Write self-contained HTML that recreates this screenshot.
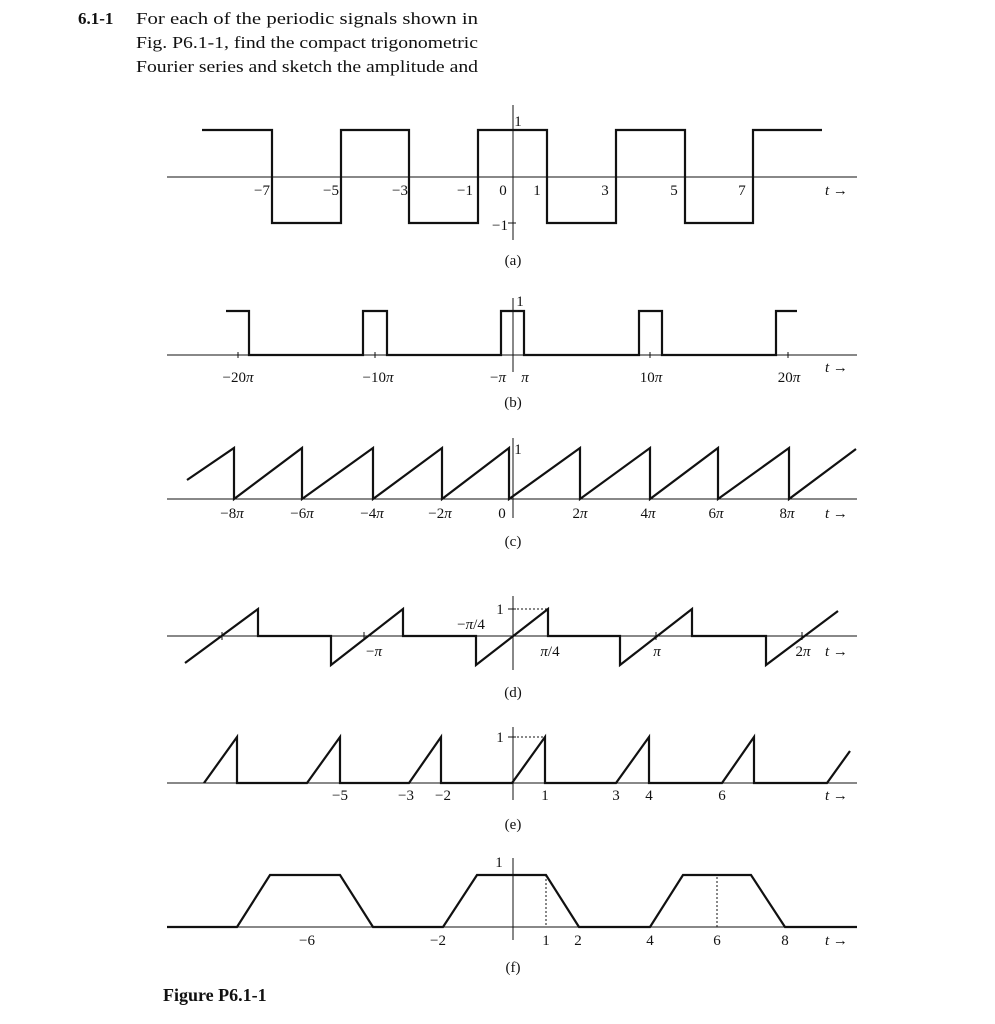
<!DOCTYPE html>
<html><head><meta charset="utf-8"><style>
html,body{margin:0;padding:0;background:#fff;width:995px;height:1024px;overflow:hidden}
svg{display:block}
text{font-family:"Liberation Serif",serif;fill:#111}
</style></head><body>
<svg width="995" height="1024" viewBox="0 0 995 1024" xmlns="http://www.w3.org/2000/svg">
<g font-size="17">
<text x="78" y="24" font-weight="bold">6.1-1</text>
<text x="136" y="24" textLength="342" lengthAdjust="spacingAndGlyphs">For each of the periodic signals shown in</text>
<text x="136" y="48" textLength="342" lengthAdjust="spacingAndGlyphs">Fig. P6.1-1, find the compact trigonometric</text>
<text x="136" y="72" textLength="342" lengthAdjust="spacingAndGlyphs">Fourier series and sketch the amplitude and</text>
</g>
<g stroke="#111" fill="none" stroke-width="1">
<line x1="167" y1="177" x2="857" y2="177"/><line x1="513" y1="105" x2="513" y2="240"/>
<line x1="167" y1="355" x2="857" y2="355"/><line x1="513" y1="298" x2="513" y2="372"/>
<line x1="167" y1="499" x2="857" y2="499"/><line x1="513" y1="438" x2="513" y2="518"/>
<line x1="167" y1="636" x2="857" y2="636"/><line x1="513" y1="596" x2="513" y2="670"/>
<line x1="167" y1="783" x2="857" y2="783"/><line x1="513" y1="727" x2="513" y2="800"/>
<line x1="167" y1="927" x2="857" y2="927"/><line x1="513" y1="858" x2="513" y2="940"/>
<line x1="508" y1="223" x2="516" y2="223"/>
<line x1="238" y1="352" x2="238" y2="358"/><line x1="375" y1="352" x2="375" y2="358"/><line x1="650" y1="352" x2="650" y2="358"/><line x1="788" y1="352" x2="788" y2="358"/>
<line x1="222" y1="632" x2="222" y2="640"/><line x1="364" y1="632" x2="364" y2="640"/><line x1="656" y1="632" x2="656" y2="640"/><line x1="802" y1="632" x2="802" y2="640"/>
<line x1="508" y1="609" x2="516" y2="609"/><line x1="508" y1="737" x2="516" y2="737"/>
</g>
<g stroke="#111" fill="none" stroke-dasharray="2,2" stroke-width="1">
<line x1="513" y1="609" x2="548" y2="609"/>
<line x1="513" y1="737" x2="545" y2="737"/>
<line x1="546" y1="875" x2="546" y2="927"/>
<line x1="717" y1="877" x2="717" y2="927"/>
</g>
<g stroke="#111" fill="none" stroke-width="2.2" stroke-linejoin="miter">
<polyline points="202,130 272,130 272,223 341,223 341,130 409,130 409,223 478,223 478,130 547,130 547,223 616,223 616,130 685,130 685,223 753,223 753,130 822,130"/>
<polyline points="226,311 249,311 249,355 363,355 363,311 387,311 387,355 501,355 501,311 524,311 524,355 639,355 639,311 662,311 662,355 776,355 776,311 797,311"/>
<polyline points="187,480 234,448 234,499 302,448 302,499 373,448 373,499 442,448 442,499 509,448 509,499 580,448 580,499 650,448 650,499 718,448 718,499 789,448 789,499 856,449"/>
<polyline points="185,663 258,609 258,636 331,636 331,665 403,609 403,636 476,636 476,665 548,609 548,636 620,636 620,665 692,609 692,636 766,636 766,665 838,611"/>
<polyline points="204,783 237,737 237,783 307,783 340,737 340,783 409,783 441,737 441,783 512,783 545,737 545,783 616,783 649,737 649,783 722,783 754,737 754,783 827,783 850,751"/>
<polyline points="167,927 237,927 270,875 340,875 373,927 443,927 477,875 546,875 579,927 650,927 683,875 751,875 785,927 857,927"/>
</g>
<g font-size="15" text-anchor="middle">
<text x="518" y="126">1</text>
<text x="262" y="195">−7</text><text x="331" y="195">−5</text><text x="400" y="195">−3</text><text x="465" y="195">−1</text>
<text x="503" y="195">0</text><text x="537" y="195">1</text><text x="605" y="195">3</text><text x="674" y="195">5</text><text x="742" y="195">7</text>
<text x="500" y="230">−1</text>
<text x="513" y="265">(a)</text>
<text x="520" y="306">1</text>
<text x="238" y="382">−20<tspan font-style="italic">π</tspan></text>
<text x="378" y="382">−10<tspan font-style="italic">π</tspan></text>
<text x="498" y="382">−<tspan font-style="italic">π</tspan></text>
<text x="525" y="382" font-style="italic">π</text>
<text x="651" y="382">10<tspan font-style="italic">π</tspan></text>
<text x="789" y="382">20<tspan font-style="italic">π</tspan></text>
<text x="513" y="407">(b)</text>
<text x="518" y="454">1</text>
<text x="232" y="518">−8<tspan font-style="italic">π</tspan></text>
<text x="302" y="518">−6<tspan font-style="italic">π</tspan></text>
<text x="372" y="518">−4<tspan font-style="italic">π</tspan></text>
<text x="440" y="518">−2<tspan font-style="italic">π</tspan></text>
<text x="502" y="518">0</text>
<text x="580" y="518">2<tspan font-style="italic">π</tspan></text>
<text x="648" y="518">4<tspan font-style="italic">π</tspan></text>
<text x="716" y="518">6<tspan font-style="italic">π</tspan></text>
<text x="787" y="518">8<tspan font-style="italic">π</tspan></text>
<text x="513" y="546">(c)</text>
<text x="500" y="614">1</text>
<text x="471" y="629">−<tspan font-style="italic">π</tspan>/4</text>
<text x="550" y="656"><tspan font-style="italic">π</tspan>/4</text>
<text x="374" y="656">−<tspan font-style="italic">π</tspan></text>
<text x="657" y="656" font-style="italic">π</text>
<text x="803" y="656">2<tspan font-style="italic">π</tspan></text>
<text x="513" y="697">(d)</text>
<text x="500" y="742">1</text>
<text x="340" y="800">−5</text><text x="406" y="800">−3</text><text x="443" y="800">−2</text>
<text x="545" y="800">1</text><text x="616" y="800">3</text><text x="649" y="800">4</text><text x="722" y="800">6</text>
<text x="513" y="829">(e)</text>
<text x="499" y="867">1</text>
<text x="307" y="945">−6</text><text x="438" y="945">−2</text><text x="546" y="945">1</text><text x="578" y="945">2</text>
<text x="650" y="945">4</text><text x="717" y="945">6</text><text x="785" y="945">8</text>
<text x="513" y="972">(f)</text>
</g>
<g font-size="15">
<text x="825" y="195"><tspan font-style="italic">t</tspan> →</text>
<text x="825" y="372"><tspan font-style="italic">t</tspan> →</text>
<text x="825" y="518"><tspan font-style="italic">t</tspan> →</text>
<text x="825" y="656"><tspan font-style="italic">t</tspan> →</text>
<text x="825" y="800"><tspan font-style="italic">t</tspan> →</text>
<text x="825" y="945"><tspan font-style="italic">t</tspan> →</text>
</g>
<text x="163" y="1001" font-size="18" font-weight="bold">Figure P6.1-1</text>
</svg>
</body></html>
